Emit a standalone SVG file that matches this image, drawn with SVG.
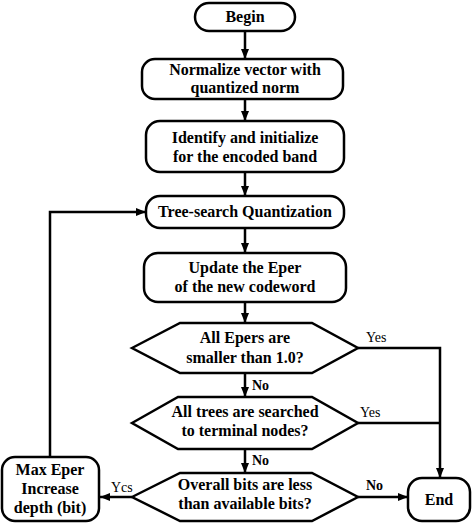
<svg xmlns="http://www.w3.org/2000/svg" width="474" height="524" viewBox="0 0 474 524">
<style>
.n{fill:#fff;stroke:#000;stroke-width:2.5}
.t{font-family:"Liberation Serif","Times New Roman",serif;font-weight:bold;font-size:16px;text-anchor:middle;fill:#000}
.l{font-family:"Liberation Serif","Times New Roman",serif;font-size:14px;fill:#000}
.lb{font-family:"Liberation Serif","Times New Roman",serif;font-weight:bold;font-size:14px;fill:#000}
.c{fill:none;stroke:#000;stroke-width:2.5}
</style>
<defs>
<marker id="a" viewBox="0 0 10 8" refX="10" refY="4" markerWidth="10" markerHeight="8" markerUnits="userSpaceOnUse" orient="auto">
<path d="M0,0L10,4L0,8z" fill="#000"/>
</marker>
</defs>
<g id="connectors">
<path class="c" d="M245,31V59" marker-end="url(#a)"/>
<path class="c" d="M245,99V121" marker-end="url(#a)"/>
<path class="c" d="M245,172V196" marker-end="url(#a)"/>
<path class="c" d="M245,228V253" marker-end="url(#a)"/>
<path class="c" d="M245,302V323" marker-end="url(#a)"/>
<path class="c" d="M245,373V397" marker-end="url(#a)"/>
<path class="c" d="M245,449V473" marker-end="url(#a)"/>
<path class="c" d="M358,348H440V478" marker-end="url(#a)"/>
<path class="c" d="M358,423H440"/>
<path class="c" d="M358,497H408" marker-end="url(#a)"/>
<path class="c" d="M132,497H100" marker-end="url(#a)"/>
<path class="c" d="M50,457V212H146" marker-end="url(#a)"/>
<text class="l" x="366" y="342">Yes</text>
<text class="l" x="360" y="417">Yes</text>
<text class="lb" x="366" y="490">No</text>
<text class="l" x="111" y="492">Ycs</text>
<text class="lb" x="252" y="390">No</text>
<text class="lb" x="252" y="465">No</text>
</g>
<g id="begin">
<rect class="n" x="195" y="3" width="100" height="28" rx="14"/>
<text class="t" x="245" y="22">Begin</text>
</g>
<g id="normalize">
<rect class="n" x="142" y="59" width="201" height="40" rx="13"/>
<text class="t" x="245" y="75">Normalize vector with</text>
<text class="t" x="245" y="93">quantized norm</text>
</g>
<g id="identify">
<rect class="n" x="146" y="121" width="198" height="51" rx="14"/>
<text class="t" x="245" y="143">Identify and initialize</text>
<text class="t" x="245" y="162">for the encoded band</text>
</g>
<g id="treesearch">
<rect class="n" x="146" y="196" width="198" height="32" rx="14"/>
<text class="t" x="245" y="217">Tree-search Quantization</text>
</g>
<g id="update">
<rect class="n" x="144" y="253" width="202" height="49" rx="14"/>
<text class="t" x="245" y="273">Update the Eper</text>
<text class="t" x="245" y="292">of the new codeword</text>
</g>
<g id="d1">
<polygon class="n" points="132,348 180,323 312,323 358,348 312,373 180,373"/>
<text class="t" x="245" y="343">All Epers are</text>
<text class="t" x="245" y="363">smaller than 1.0?</text>
</g>
<g id="d2">
<polygon class="n" points="132,423 178,397 312,397 358,423 312,449 178,449"/>
<text class="t" x="245" y="417">All trees are searched</text>
<text class="t" x="245" y="436">to terminal nodes?</text>
</g>
<g id="d3">
<polygon class="n" points="132,497 180,473 312,473 358,497 312,521 180,521"/>
<text class="t" x="245" y="490">Overall bits are less</text>
<text class="t" x="245" y="509">than available bits?</text>
</g>
<g id="maxeper">
<rect class="n" x="2" y="457" width="97" height="64" rx="13"/>
<text class="t" x="50" y="475">Max Eper</text>
<text class="t" x="50" y="494">Increase</text>
<text class="t" x="50" y="513">depth (bit)</text>
</g>
<g id="end">
<rect class="n" x="408" y="478" width="62" height="43" rx="14"/>
<text class="t" x="439" y="505">End</text>
</g>
</svg>
